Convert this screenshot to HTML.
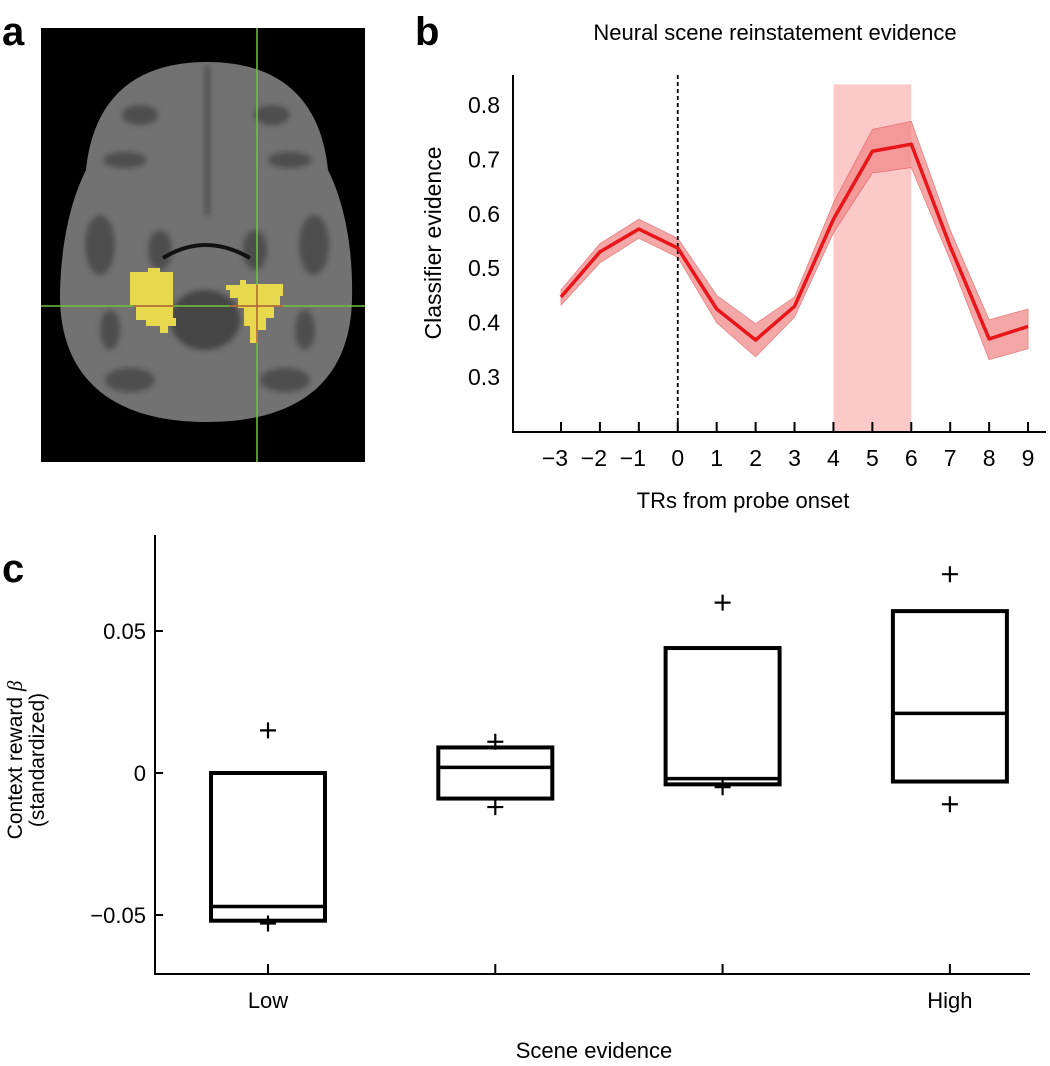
<!DOCTYPE html>
<html><head><meta charset="utf-8"><style>
body{margin:0;background:#fff;width:1050px;height:1066px;overflow:hidden}
svg{display:block;font-family:"Liberation Sans",sans-serif}
</style></head><body>
<svg id="fig" width="1050" height="1066" viewBox="0 0 1050 1066">
<text x="2" y="45" font-size="40" font-weight="bold">a</text>
<text x="415" y="45" font-size="40" font-weight="bold">b</text>
<text x="2" y="582" font-size="40" font-weight="bold">c</text>

<g>
<rect x="41" y="28" width="324" height="434" fill="#000"/>
<defs><filter id="bl"><feGaussianBlur stdDeviation="3"/></filter></defs>
<path d="M207,62 C290,62 322,110 328,170 C348,210 353,260 352,300 C350,380 300,422 207,422 C114,422 62,380 60,300 C60,260 66,210 86,170 C92,110 124,62 207,62Z" fill="#727272"/>
<g filter="url(#bl)" fill="#4e4e4e">
<rect x="205" y="66" width="5" height="150"/>
<ellipse cx="140" cy="115" rx="18" ry="10"/><ellipse cx="272" cy="115" rx="18" ry="10"/>
<ellipse cx="125" cy="160" rx="22" ry="8"/><ellipse cx="290" cy="160" rx="22" ry="8"/>
<ellipse cx="100" cy="245" rx="15" ry="30"/><ellipse cx="314" cy="245" rx="15" ry="30"/>
<ellipse cx="205" cy="320" rx="35" ry="30" fill="#444"/>
<ellipse cx="130" cy="380" rx="25" ry="12"/><ellipse cx="285" cy="380" rx="25" ry="12"/>
<ellipse cx="160" cy="250" rx="12" ry="20"/><ellipse cx="255" cy="250" rx="12" ry="20"/>
<ellipse cx="110" cy="330" rx="10" ry="20"/><ellipse cx="305" cy="330" rx="10" ry="20"/>
</g>
<path d="M163,258 Q205,232 250,258" stroke="#111" stroke-width="4" fill="none"/>
<path d="M130,272 L148,272 L148,268 L160,268 L160,272 L173,272 L173,318 L176,318 L176,326 L168,326 L168,333 L160,333 L160,326 L146,326 L146,320 L136,320 L136,305 L130,305Z" fill="#e8d84e"/>
<path d="M226,285 L240,285 L240,280 L246,280 L246,284 L283,284 L283,296 L280,296 L280,306 L274,306 L274,318 L266,318 L266,330 L258,330 L258,343 L250,343 L250,326 L244,326 L244,308 L238,308 L238,298 L230,298 L230,290 L226,290Z" fill="#e8d84e"/>
<line x1="257" y1="28" x2="257" y2="462" stroke="#6ec53a" stroke-width="1.5"/>
<line x1="41" y1="306" x2="365" y2="306" stroke="#6ec53a" stroke-width="1.5"/>
<line x1="133" y1="306" x2="173" y2="306" stroke="#c0603a" stroke-width="1.5"/>
<line x1="230" y1="306" x2="283" y2="306" stroke="#c0603a" stroke-width="1.5"/>
<line x1="257" y1="285" x2="257" y2="343" stroke="#c0603a" stroke-width="1.5"/>
</g>

<g id="chartB"></g>
<g id="chartC"></g>
</svg>
<script>
const trs=[-3,-2,-1,0,1,2,3,4,5,6,7,8,9];
const meanEv=[0.447,0.530,0.572,0.537,0.425,0.368,0.430,0.590,0.715,0.728,0.540,0.370,0.393];
const lowerEv=[0.432,0.510,0.555,0.520,0.400,0.337,0.410,0.565,0.675,0.685,0.515,0.332,0.352];
const upperEv=[0.460,0.545,0.590,0.555,0.450,0.398,0.447,0.620,0.755,0.770,0.570,0.405,0.425];
const yTicksB=[0.3,0.4,0.5,0.6,0.7,0.8];
const windowTR=[4,6];
const windowTop=0.838;

const cats=["Low","","","High"];
const q1=[-0.052,-0.009,-0.004,-0.003];
const med=[-0.047,0.002,-0.002,0.021];
const q3=[0.000,0.009,0.044,0.057];
const outHi=[0.015,0.011,0.060,0.070];
const outLo=[-0.053,-0.012,-0.005,-0.011];
const yTicksC=[-0.05,0,0.05];
const yTickLabC=["\u22120.05","0","0.05"];

const NS="http://www.w3.org/2000/svg";
function mk(parent,tag,attrs,text){const e=document.createElementNS(NS,tag);for(const k in attrs)e.setAttribute(k,attrs[k]);if(text!==undefined)e.textContent=text;parent.appendChild(e);return e;}

// Chart B
const gB=document.getElementById('chartB');
const xB=v=>561+(v+3)*38.92;
const yB=v=>105+(0.8-v)*544;
let r=mk(gB,'rect',{x:xB(windowTR[0]),y:yB(windowTop),width:xB(windowTR[1])-xB(windowTR[0]),height:432-yB(windowTop),fill:'#fcc9c9'});


let bandD=trs.map((t,i)=>(i?'L':'M')+xB(t)+','+yB(upperEv[i])).join('')+trs.slice().reverse().map((t,j)=>'L'+xB(t)+','+yB(lowerEv[trs.length-1-j])).join('')+'Z';
let band=mk(gB,'path',{d:bandD,fill:'#f08a8a',opacity:'0.75',stroke:'#e05555','stroke-width':'0.8'});


let dl=mk(gB,'line',{x1:xB(0),y1:75,x2:xB(0),y2:432,stroke:'#000','stroke-width':'1.8','stroke-dasharray':'4,3'});


let ln=mk(gB,'path',{d:trs.map((t,i)=>(i?'L':'M')+xB(t)+','+yB(meanEv[i])).join(''),fill:'none',stroke:'#e8161a','stroke-width':'3.5','stroke-linejoin':'round'});


mk(gB,'path',{d:'M513,75 L513,432 L1046,432',fill:'none',stroke:'#000','stroke-width':'2'});
yTicksB.forEach(v=>{
  let t=mk(gB,'text',{x:500,y:yB(v)+8,'font-size':'23','text-anchor':'end'},v.toFixed(1));
  
  
});
trs.forEach(v=>{
  mk(gB,'line',{x1:xB(v),y1:432,x2:xB(v),y2:422,stroke:'#000','stroke-width':'2'});
  let t=mk(gB,'text',{x:xB(v)-(v<0?6:0),y:466,'font-size':'23','text-anchor':'middle'},v<0?'\u2212'+(-v):String(v));
  
  
});
let tt=mk(gB,'text',{x:775,y:40,'font-size':'22','text-anchor':'middle'},'Neural scene reinstatement evidence');


let yl=mk(gB,'text',{x:0,y:0,'font-size':'23','text-anchor':'middle',transform:'translate(441,243) rotate(-90)'},'Classifier evidence');


let xl=mk(gB,'text',{x:743,y:508,'font-size':'22','text-anchor':'middle'},'TRs from probe onset');



// Chart C
const gC=document.getElementById('chartC');
const xC=i=>268+i*227.3;
const yC=v=>773-v*2840;
const hw=57;
mk(gC,'path',{d:'M155,535 L155,974 L1030,974',fill:'none',stroke:'#000','stroke-width':'2'});
yTicksC.forEach((v,i)=>{
  mk(gC,'line',{x1:155,y1:yC(v),x2:163,y2:yC(v),stroke:'#000','stroke-width':'2'});
  let t=mk(gC,'text',{x:146,y:yC(v)+8,'font-size':'22','text-anchor':'end'},yTickLabC[i]);
  
  
});
cats.forEach((c,i)=>{
  mk(gC,'line',{x1:xC(i),y1:974,x2:xC(i),y2:964,stroke:'#000','stroke-width':'2'});
  if(c){let t=mk(gC,'text',{x:xC(i),y:1008,'font-size':'22','text-anchor':'middle'},c);
  
  }
  let b=mk(gC,'rect',{x:xC(i)-hw,y:yC(q3[i]),width:2*hw,height:yC(q1[i])-yC(q3[i]),fill:'none',stroke:'#000','stroke-width':'4'});
  
  
  let m=mk(gC,'line',{x1:xC(i)-hw,y1:yC(med[i]),x2:xC(i)+hw,y2:yC(med[i]),stroke:'#000','stroke-width':'3.5'});
  
  
  [outHi[i],outLo[i]].forEach(o=>{
    let p=mk(gC,'path',{d:`M${xC(i)-8},${yC(o)}L${xC(i)+8},${yC(o)}M${xC(i)},${yC(o)-8}L${xC(i)},${yC(o)+8}`,stroke:'#000','stroke-width':'2.2'});
    
    
  });
});
let yc=mk(gC,'text',{x:0,y:0,'font-size':'21','text-anchor':'middle',transform:'translate(22,760) rotate(-90)'});


mk(yc,'tspan',{x:0,dy:0},'Context reward ');
mk(yc,'tspan',{'font-family':'Liberation Serif','font-style':'italic'},'\u03b2');
mk(yc,'tspan',{x:0,dy:'22'},'(standardized)');
let xc=mk(gC,'text',{x:594,y:1058,'font-size':'22','text-anchor':'middle'},'Scene evidence');


</script>
</body></html>
